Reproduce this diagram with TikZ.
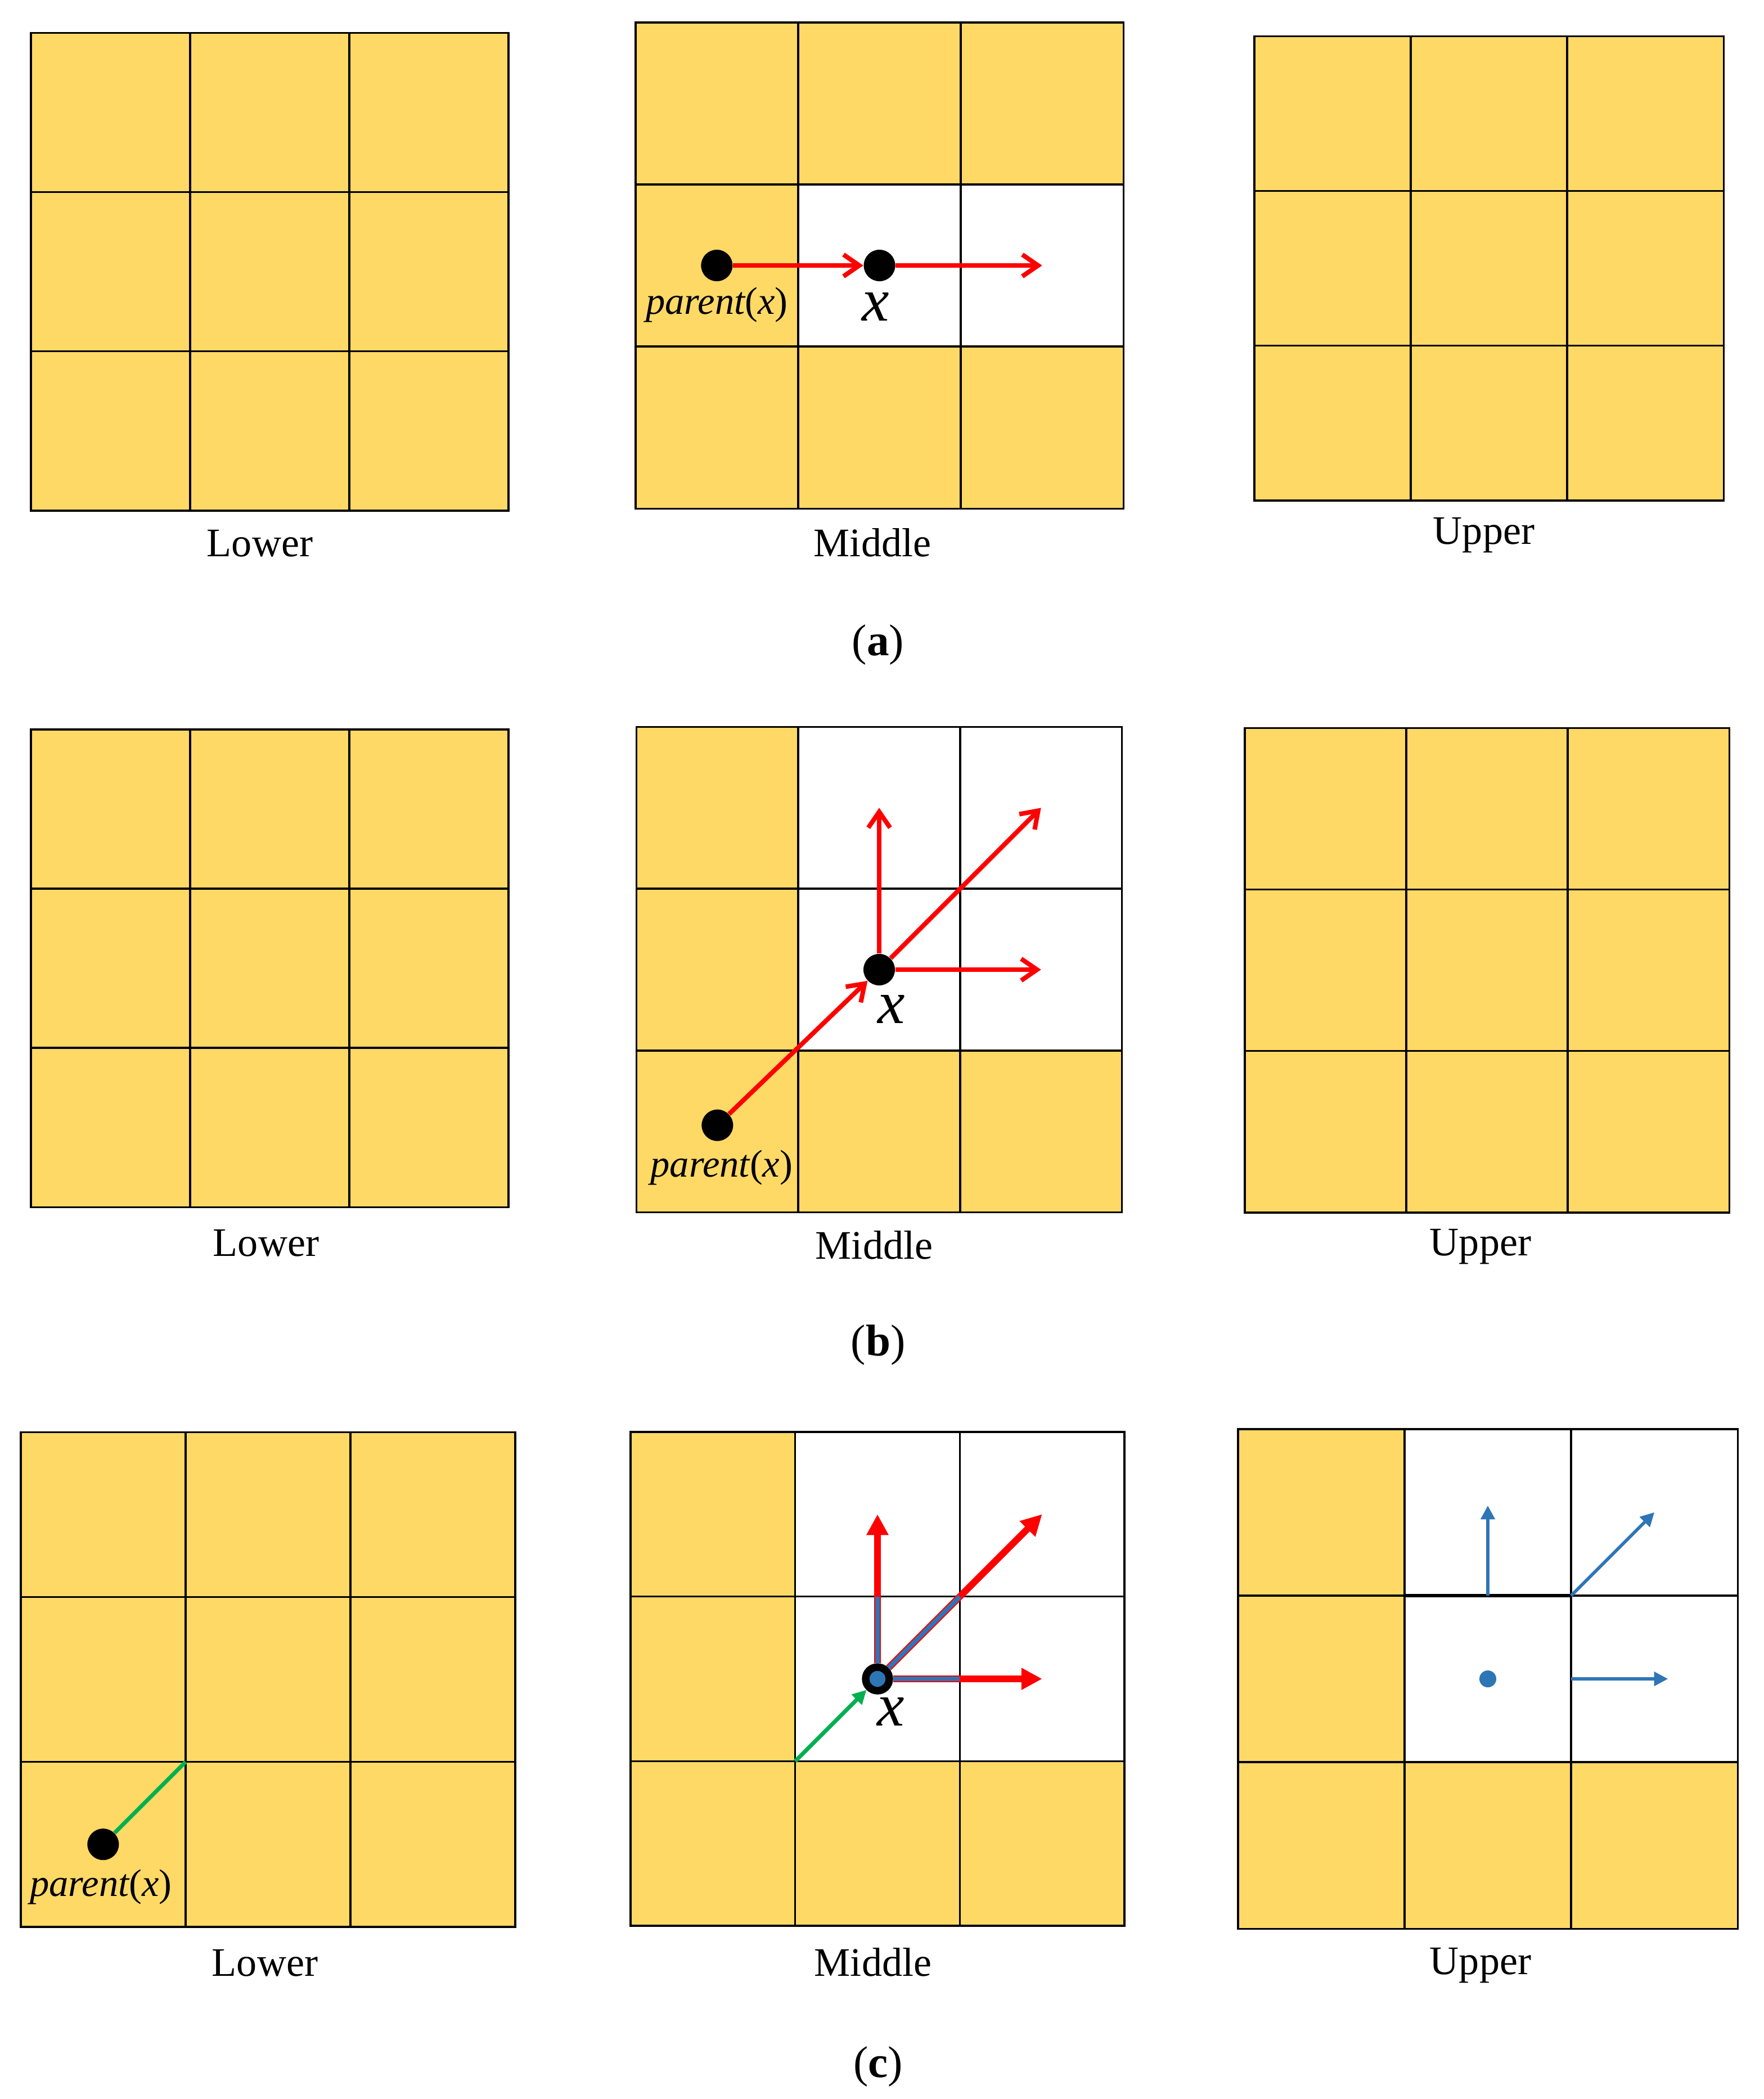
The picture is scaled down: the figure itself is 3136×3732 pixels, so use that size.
\documentclass[tikz,border=0pt]{standalone}
\usepackage{fontspec}
\setmainfont{Liberation Serif}
\usepackage{tikz}
\usepackage{xcolor}
\usetikzlibrary{calc}
\usetikzlibrary{arrows.meta}

\definecolor{jaune}{RGB}{255,217,102}
\definecolor{rouge}{RGB}{255,0,0}
\definecolor{vert}{RGB}{0,176,80}
\definecolor{bleu}{RGB}{46,117,182}

\begin{document}
\begin{tikzpicture}[x=0.01cm, y=-0.01cm]

\useasboundingbox (0,0) rectangle (3136,3732);

\tikzset{
    cellule/.style = {
    draw, line width=1pt,
    inner sep=0pt, outer sep=0pt
    }
}

\tikzstyle{pleine}=[cellule, fill=jaune]
\tikzstyle{libre}=[cellule, fill=white]
\tikzstyle{point}=[circle, fill=black, minimum size=0.56cm, inner sep=0pt]
\tikzstyle{pointx}=[circle, draw=black, line width=3.8pt, fill=bleu, minimum size=0.42cm, inner sep=0pt]
\tikzstyle{pointbleu}=[circle, fill=bleu, minimum size=0.3cm, inner sep=0pt]
\tikzstyle{nom}=[anchor=base, font=\fontsize{20.5}{24}\selectfont]
\tikzstyle{legende}=[anchor=base, font=\fontsize{22.5}{26}\selectfont]
\tikzstyle{nomparent}=[anchor=base, inner sep=0pt, font=\fontsize{19.5}{22}\selectfont]
\tikzstyle{nomx}=[anchor=base, inner sep=0pt, font=\fontsize{31}{34}\selectfont\itshape]
\tikzstyle{suivant}=[draw=rouge, line width=2.3pt, -{Straight Barb[length=8pt, width=11pt]}]
\tikzstyle{suivantfort}=[draw=rouge, line width=3.4pt, -{Triangle[length=10.5pt, width=10.5pt]}]
\tikzstyle{retour}=[draw=bleu, line width=2.2pt]
\tikzstyle{vers}=[draw=vert, line width=2pt, -{Triangle[length=7pt, width=7pt]}]
\tikzstyle{lien}=[draw=vert, line width=2pt]
\tikzstyle{voisin}=[draw=bleu, line width=1.6pt, -{Triangle[length=7pt, width=7pt]}]

% (a)
\matrix (aL) at (479.5,483) [column sep=-1pt, row sep=-1pt, nodes={minimum size=2.83cm}]
{
\node (aL-1-1) [pleine] {};
& \node (aL-1-2) [pleine] {};
& \node (aL-1-3) [pleine] {};
\\
\node (aL-2-1) [pleine] {};
& \node (aL-2-2) [pleine] {};
& \node (aL-2-3) [pleine] {};
\\
\node (aL-3-1) [pleine] {};
& \node (aL-3-2) [pleine] {};
& \node (aL-3-3) [pleine] {};
\\
};

\matrix (aM) at (1563.5,472) [column sep=-1pt, row sep=-1pt, nodes={minimum width=2.89cm, minimum height=2.88cm}]
{
\node (aM-1-1) [pleine] {};
& \node (aM-1-2) [pleine] {};
& \node (aM-1-3) [pleine] {};
\\
\node (aM-2-1) [pleine] {};
& \node (aM-2-2) [libre] {};
& \node (aM-2-3) [libre] {};
\\
\node (aM-3-1) [pleine] {};
& \node (aM-3-2) [pleine] {};
& \node (aM-3-3) [pleine] {};
\\
};

\matrix (aU) at (2647,477) [column sep=-1pt, row sep=-1pt, nodes={minimum width=2.78cm, minimum height=2.75cm}]
{
\node (aU-1-1) [pleine] {};
& \node (aU-1-2) [pleine] {};
& \node (aU-1-3) [pleine] {};
\\
\node (aU-2-1) [pleine] {};
& \node (aU-2-2) [pleine] {};
& \node (aU-2-3) [pleine] {};
\\
\node (aU-3-1) [pleine] {};
& \node (aU-3-2) [pleine] {};
& \node (aU-3-3) [pleine] {};
\\
};

\node (aM-p) [point] at (aM-2-1.center) {};
\node (aM-x) [point] at (aM-2-2.center) {};
\draw[suivant] (aM-p) -- (aM-x);
\draw[suivant] (aM-x) -- (aM-2-3.center);
\node (aM-pn) [nomparent] at ([yshift=-0.86cm]aM-p.center) {\itshape parent\upshape(\itshape x\upshape)};
\node (aM-xn) [nomx] at ([shift={(-0.07cm,-0.98cm)}]aM-x.center) {x};

\node (aL-nom) [nom] at (462,989) {Lower};
\node (aM-nom) [nom] at (1551,989) {Middle};
\node (aU-nom) [nom] at (2638,967) {Upper};
\node (a-leg) [legende] at (1561,1165) {(\textbf{a})};

% (b)
\matrix (bL) at (479.5,1721.5) [column sep=-1pt, row sep=-1pt, nodes={minimum size=2.83cm}]
{
\node (bL-1-1) [pleine] {};
& \node (bL-1-2) [pleine] {};
& \node (bL-1-3) [pleine] {};
\\
\node (bL-2-1) [pleine] {};
& \node (bL-2-2) [pleine] {};
& \node (bL-2-3) [pleine] {};
\\
\node (bL-3-1) [pleine] {};
& \node (bL-3-2) [pleine] {};
& \node (bL-3-3) [pleine] {};
\\
};

\matrix (bM) at (1563,1724) [column sep=-1pt, row sep=-1pt, nodes={minimum size=2.875cm}]
{
\node (bM-1-1) [pleine] {};
& \node (bM-1-2) [libre] {};
& \node (bM-1-3) [libre] {};
\\
\node (bM-2-1) [pleine] {};
& \node (bM-2-2) [libre] {};
& \node (bM-2-3) [libre] {};
\\
\node (bM-3-1) [pleine] {};
& \node (bM-3-2) [pleine] {};
& \node (bM-3-3) [pleine] {};
\\
};

\matrix (bU) at (2643.5,1725) [column sep=-1pt, row sep=-1pt, nodes={minimum size=2.87cm}]
{
\node (bU-1-1) [pleine] {};
& \node (bU-1-2) [pleine] {};
& \node (bU-1-3) [pleine] {};
\\
\node (bU-2-1) [pleine] {};
& \node (bU-2-2) [pleine] {};
& \node (bU-2-3) [pleine] {};
\\
\node (bU-3-1) [pleine] {};
& \node (bU-3-2) [pleine] {};
& \node (bU-3-3) [pleine] {};
\\
};

\node (bM-p) [point] at ([yshift=0.11cm]bM-3-1.center) {};
\node (bM-x) [point] at (bM-2-2.center) {};
\draw[suivant] (bM-p) -- (bM-x);
\draw[suivant] (bM-x) -- (bM-1-2.center);
\draw[suivant] (bM-x) -- (bM-1-3.center);
\draw[suivant] (bM-x) -- (bM-2-3.center);
\node (bM-pn) [nomparent] at ([shift={(0.075cm,-0.92cm)}]bM-p.center) {\itshape parent\upshape(\itshape x\upshape)};
\node (bM-xn) [nomx] at ([shift={(0.22cm,-0.95cm)}]bM-x.center) {x};

\node (bL-nom) [nom] at (473,2233) {Lower};
\node (bM-nom) [nom] at (1554,2238) {Middle};
\node (bU-nom) [nom] at (2632,2232) {Upper};
\node (b-leg) [legende] at (1561,2410) {(\textbf{b})};

% (c)
\matrix (cL) at (476.5,2986) [column sep=-1pt, row sep=-1pt, nodes={minimum size=2.93cm}]
{
\node (cL-1-1) [pleine] {};
& \node (cL-1-2) [pleine] {};
& \node (cL-1-3) [pleine] {};
\\
\node (cL-2-1) [pleine] {};
& \node (cL-2-2) [pleine] {};
& \node (cL-2-3) [pleine] {};
\\
\node (cL-3-1) [pleine] {};
& \node (cL-3-2) [pleine] {};
& \node (cL-3-3) [pleine] {};
\\
};

\matrix (cM) at (1560,2985) [column sep=-1pt, row sep=-1pt, nodes={minimum size=2.925cm}]
{
\node (cM-1-1) [pleine] {};
& \node (cM-1-2) [libre] {};
& \node (cM-1-3) [libre] {};
\\
\node (cM-2-1) [pleine] {};
& \node (cM-2-2) [libre] {};
& \node (cM-2-3) [libre] {};
\\
\node (cM-3-1) [pleine] {};
& \node (cM-3-2) [pleine] {};
& \node (cM-3-3) [pleine] {};
\\
};

\matrix (cU) at (2645,2985) [column sep=-1pt, row sep=-1pt, nodes={minimum size=2.96cm}]
{
\node (cU-1-1) [pleine] {};
& \node (cU-1-2) [libre] {};
& \node (cU-1-3) [libre] {};
\\
\node (cU-2-1) [pleine] {};
& \node (cU-2-2) [libre] {};
& \node (cU-2-3) [libre] {};
\\
\node (cU-3-1) [pleine] {};
& \node (cU-3-2) [pleine] {};
& \node (cU-3-3) [pleine] {};
\\
};

\node (cL-p) [point] at (cL-3-1.center) {};
\draw[lien] (cL-p) -- (cL-3-1.north east);
\node (cL-pn) [nomparent] at ([shift={(-0.04cm,-0.92cm)}]cL-p.center) {\itshape parent\upshape(\itshape x\upshape)};

\node (cM-x) [pointx] at (cM-2-2.center) {};
\draw[suivantfort] (cM-x) -- (cM-1-2.center);
\draw[suivantfort] (cM-x) -- (cM-1-3.center);
\draw[suivantfort] (cM-x) -- (cM-2-3.center);
\draw[retour] (cM-x) -- (cM-2-2.north);
\draw[retour] (cM-x) -- (cM-2-2.north east);
\draw[retour] (cM-x) -- (cM-2-2.east);
\draw[vers] (cM-2-2.south west) -- (cM-x);
\node (cM-xn) [nomx] at ([shift={(0.24cm,-0.83cm)}]cM-x.center) {x};

\node (cU-o) [pointbleu] at (cU-2-2.center) {};
\draw[line width=1.8pt] (cU-2-2.north west) -- (cU-2-2.north east);
\draw[voisin] (cU-2-2.north) -- ([yshift=0.12cm]cU-1-2.center);
\draw[voisin] (cU-2-2.north east) -- (cU-1-3.center);
\draw[voisin] (cU-2-2.east) -- ([xshift=0.24cm]cU-2-3.center);

\node (cL-nom) [nom] at (471,3513) {Lower};
\node (cM-nom) [nom] at (1552,3513) {Middle};
\node (cU-nom) [nom] at (2632,3510) {Upper};
\node (c-leg) [legende] at (1561,3693) {(\textbf{c})};

\end{tikzpicture}
\end{document}
